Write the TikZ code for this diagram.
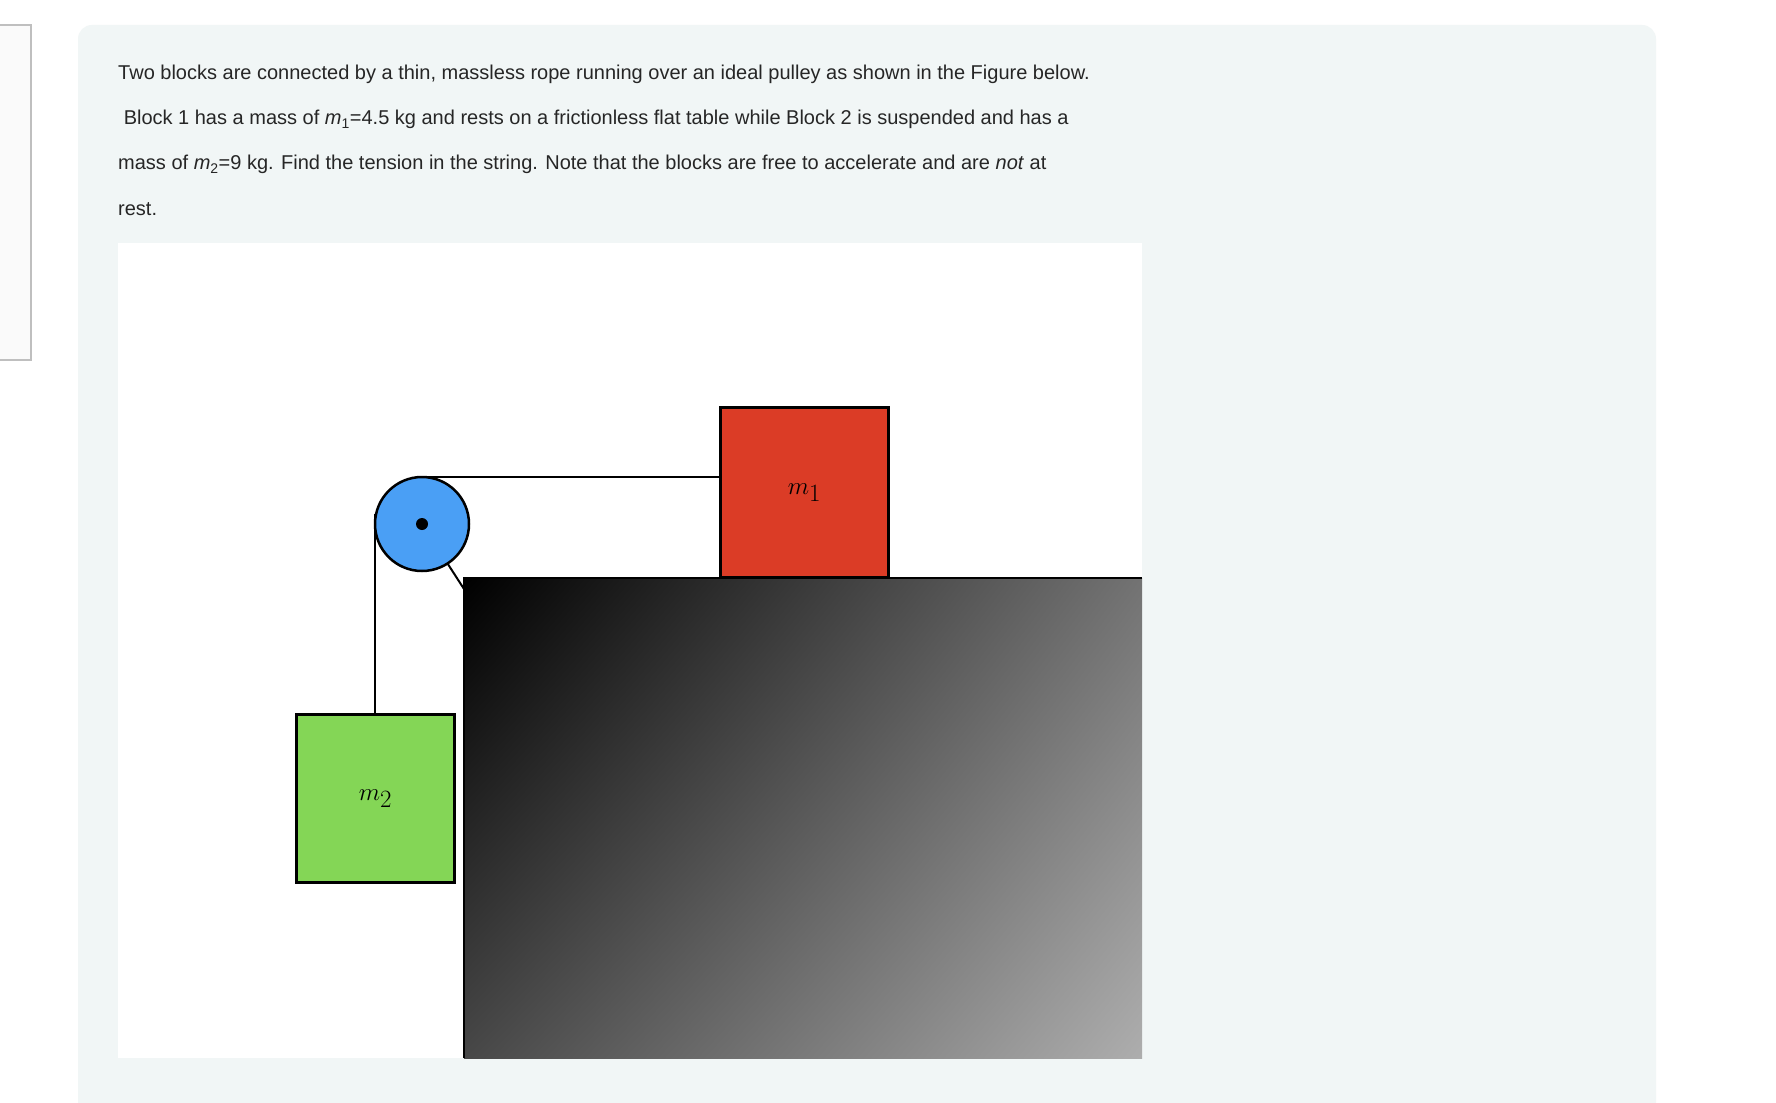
\documentclass[tikz,border=0pt]{standalone}
\usepackage{fontspec}
\setmainfont{Liberation Sans}
\usetikzlibrary{shadings}
\begin{document}
\begin{tikzpicture}[x=1pt,y=-1pt,
  blk/.style={draw=black,line width=2.5pt},
  txt/.style={anchor=base west,inner sep=0pt,font=\fontsize{20}{24}\selectfont,text=black!85},
  lbl/.style={font=\fontsize{40}{40}\selectfont}]
\useasboundingbox (0,0) rectangle (1776,1102);
\fill[white] (0,0) rectangle (1776,1102);
\draw[black!25,line width=1.2pt,fill=black!2] (-5,25) -- (31,25) -- (31,360) -- (-5,360);
\fill[rounded corners=14pt,fill={rgb,255:red,241;green,246;blue,246}] (78,25) rectangle (1656,1130);
\node[txt] (l1) at (118,80) {Two blocks are connected by a thin, massless rope running over an ideal pulley as shown in the Figure below.};
\node[txt] (l2) at (118,125) {\ Block 1 has a mass of \textit{m}\textsubscript{1}=4.5 kg and rests on a frictionless flat table while Block 2 is suspended and has a};
\node[txt] (l3) at (118,170) {mass of \textit{m}\textsubscript{2}=9 kg. Find the tension in the string. Note that the blocks are free to accelerate and are \textit{not} at};
\node[txt] (l4) at (118,215) {rest.};
\fill[white] (118,243) rectangle (1142,1058);
\shade[upper left=black,lower right=black!32,upper right=black!55,lower left=black!72] (464,578) rectangle (1142,1058);
\draw[line width=2.5pt] (464,1058) -- (464,578) -- (1142,578);
\coordinate (c) at (422,524);
\coordinate (ry) at (0,477);
\coordinate (rx) at (375,0);
\draw[line width=2pt] (c) -- (464,589);
\node[blk,fill={rgb,255:red,219;green,60;blue,38},minimum width=168pt,minimum height=170pt,inner sep=0pt] (m1) at (804.5,492.5) {};
\node[lbl] at (m1) {$m_1$};
\node[blk,fill={rgb,255:red,132;green,214;blue,86},minimum width=158pt,minimum height=168pt,inner sep=0pt] (m2) at (375.5,798.5) {};
\node[lbl] at (m2) {$m_2$};
\draw[line width=2.5pt,fill={rgb,255:red,74;green,159;blue,245}] (c) circle (47);
\fill (c) circle (6);
\draw[line width=2pt] (m1.west |- ry) -- (422,477);
\draw[line width=2pt] (375,514) -- (m2.north -| rx);
\end{tikzpicture}
\end{document}
